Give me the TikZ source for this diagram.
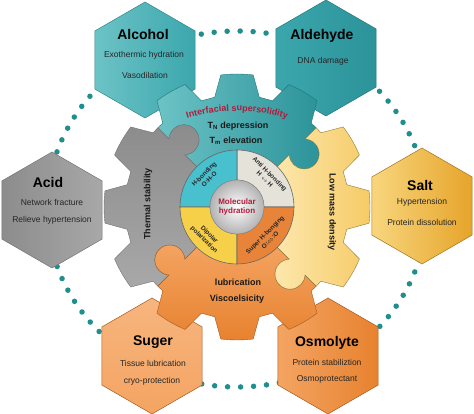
\documentclass[tikz,border=0pt]{standalone}
\usepackage{fontspec}
\setmainfont{Liberation Sans}
\usetikzlibrary{shapes.geometric,decorations.text,calc,positioning}

\definecolor{tealL}{HTML}{6CC3C6}
\definecolor{tealA}{HTML}{3BA7AD}
\definecolor{tealB}{HTML}{2B9399}
\definecolor{grayA}{HTML}{8C8C8C}
\definecolor{grayB}{HTML}{A8A8A8}
\definecolor{yelA}{HTML}{FDE8AE}
\definecolor{yelB}{HTML}{F6CB66}
\definecolor{saltA}{HTML}{F8D67E}
\definecolor{saltB}{HTML}{E6A42A}
\definecolor{orL}{HTML}{F7B57E}
\definecolor{orA}{HTML}{F4A462}
\definecolor{orB}{HTML}{E7822F}
\definecolor{dotteal}{HTML}{1F8E8C}
\definecolor{darkred}{HTML}{B31B3B}
\definecolor{segcyan}{HTML}{49C0CE}
\definecolor{seggray}{HTML}{E5E2DA}
\definecolor{segyel}{HTML}{F7D04A}
\definecolor{segor}{HTML}{E8843A}

\tikzset{
  hexa/.style={line width=0.5pt},
  hextitle/.style={font=\fontsize{14}{14}\selectfont\bfseries, inner sep=0pt},
  hexsub/.style={font=\fontsize{8.5}{9}\selectfont, text=black!85, inner sep=0pt},
  geartext/.style={font=\fontsize{9}{10}\selectfont\bfseries, text=black!90, inner sep=0pt},
  segtext/.style={font=\fontsize{6.3}{7.3}\selectfont\bfseries, align=center, inner sep=0pt, text=black!85},
  dotline/.style={dotteal, line width=5.5pt, line cap=round, dash pattern=on 0pt off 13pt},
}

% pointy-top hexagon round a named coordinate
\newcommand{\hexshape}[2]{\path[hexa,#2] (#1) +(90:58) -- +(150:58) -- +(210:58) -- +(270:58) -- +(330:58) -- +(30:58) -- cycle;}

% quarter of the gear, from angle #1 to #1+90, knob at #1, socket at #1+90
\newcommand{\gearpiece}[2]{%
  \path[#2] (#1:50) -- (#1:73.8)
    arc[start angle={#1+138.2}, end angle={#1+401.8}, radius=15] -- (#1:112)
    \foreach \tooth in {15,45,75}{
      -- ({#1+\tooth-11.5}:112) -- ({#1+\tooth-7}:133)
      arc[start angle={#1+\tooth-7}, end angle={#1+\tooth+7}, radius=133]
      -- ({#1+\tooth+11.5}:112)}
    -- ({#1+90}:112) -- ({#1+90}:96.2)
    arc[start angle={#1+491.8}, end angle={#1+228.2}, radius=15]
    -- ({#1+90}:50) arc[start angle={#1+90}, end angle={#1}, radius=50] -- cycle;}

\begin{document}
\begin{tikzpicture}[x=1pt,y=1pt]
\useasboundingbox (-237,-207) rectangle (237,207);

% dotted ring
\draw[dotline] (0,-2) ellipse [x radius=190, y radius=178];

% outer hexagons
\coordinate (alc) at (-92,147);
\coordinate (ald) at (89,149);
\coordinate (acid) at (-185,-3);
\coordinate (salt) at (185,1);
\coordinate (sug) at (-85,-149);
\coordinate (osm) at (91,-149);
\hexshape{alc}{left color=tealL, right color=tealA, draw=tealA!80!black}
\hexshape{ald}{left color=tealA, right color=tealB, draw=tealB!80!black}
\hexshape{acid}{left color=grayA, right color=grayB, draw=black!55}
\hexshape{salt}{left color=saltA, right color=saltB, draw=saltB!70!black}
\hexshape{sug}{top color=orL, bottom color=orA, draw=orB!70!black}
\hexshape{osm}{left color=orA, right color=orB, draw=orB!70!black}

% gear pieces
\gearpiece{45}{left color=tealL, right color=tealB, draw=tealB!80!black, line width=0.4pt}
\gearpiece{135}{top color=grayA, bottom color=grayB, draw=black!55, line width=0.4pt}
\gearpiece{225}{top color=orA, bottom color=orB, draw=orB!70!black, line width=0.4pt}
\gearpiece{315}{left color=yelA, right color=yelB, draw=yelB!60!black, line width=0.4pt}

% inner disk
\foreach \a/\col in {0/seggray, 90/segcyan, 180/segyel, 270/segor}
  \path[fill=\col, draw=black!60, line width=0.6pt] (\a:27) -- (\a:57)
    arc[start angle=\a, end angle=\a+90, radius=57] -- ({\a+90}:27)
    arc[start angle=\a+90, end angle=\a, radius=27] -- cycle;
\node[circle, minimum size=54pt, inner sep=0pt, draw=black!45, inner color=white, outer color=black!30,
  font=\fontsize{8}{9}\selectfont\bfseries, text=darkred, align=center] (core) at (0,0) {Molecular\\hydration};

\node[segtext, rotate=45] (hb) at (135:43) {H-bonding\\O:H-O};
\node[segtext, rotate=-45] (ahb) at (45:43) {Anti H-bonding\\H $\leftrightarrow$ H};
\node[segtext, rotate=-45] (dip) at (225:43) {Dipolar\\polarization};
\node[segtext, rotate=45] (shb) at (315:43) {Super H-bonging\\O:$\Leftrightarrow$:O};

% gear labels
\path[decorate, decoration={text along path, text align=center, text color=darkred,
  text={|\fontsize{9}{10}\selectfont\bfseries|Interfacial supersolidity}}]
  (0,-74) ++(113:170) arc[start angle=113, end angle=67, radius=170];
\node[geartext] (tn) at (1,81) {T\textsubscript{N} depression};
\node[geartext] (tm) at (-1,66) {T\textsubscript{m} elevation};
\node[geartext, rotate=90] (therm) at (-89,3) {Thermal stability};
\node[geartext, rotate=-90] (low) at (95,-5) {Low mass density};
\node[geartext] (lub) at (1,-75) {lubrication};
\node[geartext] (visc) at (0,-92) {Viscoelsicity};

% hexagon labels
\node[hextitle] (alc-t) at (-94,172) {Alcohol};
\node[hexsub] (alc-1) at (-93,152) {Exothermic hydration};
\node[hexsub] (alc-2) at (-92,132) {Vasodilation};
\node[hextitle] (ald-t) at (85,171) {Aldehyde};
\node[hexsub] (ald-1) at (86,146) {DNA damage};
\node[hextitle] (acid-t) at (-189,25) {Acid};
\node[hexsub] (acid-1) at (-185,5) {Network fracture};
\node[hexsub] (acid-2) at (-185,-13) {Relieve hypertension};
\node[hextitle] (salt-t) at (183,22) {Salt};
\node[hexsub] (salt-1) at (185,5) {Hypertension};
\node[hexsub] (salt-2) at (185,-15) {Protein dissolution};
\node[hextitle] (sug-t) at (-84,-135) {Suger};
\node[hexsub] (sug-1) at (-84,-156) {Tissue lubrication};
\node[hexsub] (sug-2) at (-85,-174) {cryo-protection};
\node[hextitle] (osm-t) at (90,-136) {Osmolyte};
\node[hexsub] (osm-1) at (90,-155) {Protein stabiliztion};
\node[hexsub] (osm-2) at (90,-172) {Osmoprotectant};
\end{tikzpicture}
\end{document}
